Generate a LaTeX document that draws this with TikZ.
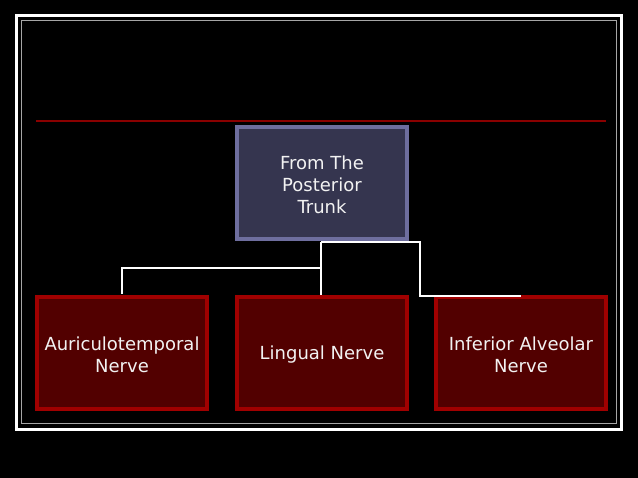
\documentclass[tikz,border=0pt]{standalone}
\usepackage{fontspec}
\setmainfont{DejaVu Sans}
\definecolor{topfill}{HTML}{35354F}
\definecolor{topborder}{HTML}{6E6E9E}
\definecolor{nfill}{HTML}{520000}
\definecolor{nborder}{HTML}{A00000}
\definecolor{rule}{HTML}{8A0000}
\definecolor{txt}{HTML}{F2F2F2}
\newcommand{\boxtext}[1]{\parbox{166bp}{\centering\vspace*{4bp}#1}}
\tikzset{
  boxbase/.style={rectangle, line width=4bp, minimum width=170bp, minimum height=112bp,
    inner sep=0pt, align=center, text=txt, font=\fontsize{18bp}{21.8bp}\selectfont},
  topbox/.style={boxbase, fill=topfill, draw=topborder},
  nervebox/.style={boxbase, fill=nfill, draw=nborder},
  conn/.style={draw=white, line width=2bp}
}
\begin{document}
\begin{tikzpicture}[x=1bp,y=-1bp]
\fill[black] (0,0) rectangle (638,478);
\useasboundingbox (0,0) rectangle (638,478);
% frame
\draw[white, line width=3bp] (16,15.5) rectangle (621.5,429.5);
\draw[gray!70, line width=1.3bp] (21.3,20.7) rectangle (616.7,423.3);
% red rule
\coordinate (rl) at (36,121);
\coordinate (rr) at (606,121);
\draw[rule, line width=1.5bp] (rl) -- (rr);
% nodes
\node[topbox] (top) at (322,183) {\boxtext{From The\\Posterior\\Trunk}};
\node[nervebox] (auri) at (122,353) {\boxtext{Auriculotemporal\\Nerve}};
\node[nervebox] (ling) at (322,353) {\boxtext{Lingual Nerve}};
\node[nervebox] (inf) at (521,353) {\boxtext{Inferior Alveolar\\Nerve}};
% connectors
\coordinate (s) at (321,242);
\coordinate (j) at (321,268);
\coordinate (e) at (420,242);
\draw[conn] (s) -- (321,295);
\draw[conn] (j) -| ([yshift=1bp]auri.north);
\draw[conn] (s) -- (e) |- ([yshift=-1bp]inf.north);
\end{tikzpicture}
\end{document}
